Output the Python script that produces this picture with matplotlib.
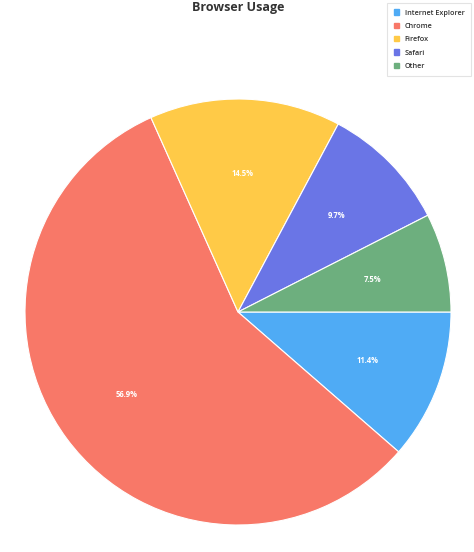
import matplotlib.pyplot as plt
import matplotlib.patches as mpatches

browsers = ['Internet Explorer', 'Chrome', 'Firefox', 'Safari', 'Other']
shares = [11.4, 56.9, 14.5, 9.7, 7.5]
colors = ['#4fabf5', '#f87868', '#ffca47', '#6a75e6', '#6daf7e']

plt.rcParams['font.family'] = ['Open Sans', 'DejaVu Sans']

fig = plt.figure(figsize=(4.74, 5.52), dpi=100)
ax = fig.add_axes([25/474, 27/552, 426/474, 426/552])
wedges, texts, autotexts = ax.pie(shares, colors=colors, startangle=0, counterclock=False,
                                  autopct='%.1f%%', pctdistance=0.65,
                                  wedgeprops=dict(edgecolor='white', linewidth=0.8))
for t in autotexts:
    t.set_color('white')
    t.set_fontsize(5.5)
    t.set_fontweight('bold')
ax.set_xlim(-1, 1)
ax.set_ylim(-1, 1)
ax.set_aspect('equal')

fig.text(238/474, 1 - 8/552, 'Browser Usage', ha='center', va='center',
         fontsize=9, fontweight='bold', color='#333333')

handles = [mpatches.Patch(color=c, label=b) for b, c in zip(browsers, colors)]
leg = fig.legend(handles=handles, loc='upper right', bbox_to_anchor=(471/474, 1 - 3/552),
                 borderaxespad=0, fontsize=5.2, frameon=True, handlelength=0.75,
                 handleheight=0.75, borderpad=0.9, labelspacing=0.85, handletextpad=0.8,
                 fancybox=False)
leg.get_frame().set_edgecolor('#dddddd')
leg.get_frame().set_linewidth(0.8)
for t in leg.get_texts():
    t.set_color('#333333')
    t.set_fontweight('semibold')

fig.savefig('out.png', dpi=100)
